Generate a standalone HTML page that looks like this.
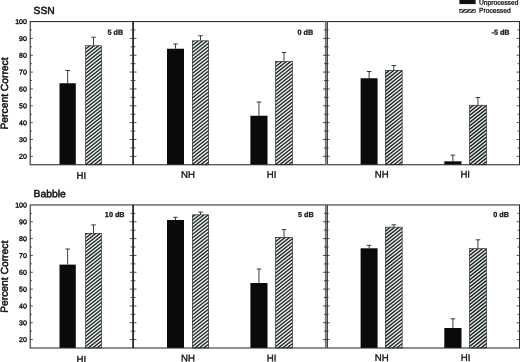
<!DOCTYPE html>
<html><head><meta charset="utf-8"><title>Percent Correct</title>
<style>
html,body{margin:0;padding:0;background:#fff;}
body{width:520px;height:362px;overflow:hidden;}
svg{display:block;}
svg text{font-family:"Liberation Sans",Arial,sans-serif;fill:#111;stroke:#111;stroke-width:0.3px;}
svg text.b{stroke-width:0.5px;}
svg text.t{stroke-width:0.4px;}
svg text.d{stroke-width:0.25px;}
</style></head><body>
<svg width="520" height="362" viewBox="0 0 520 362">
<rect width="520" height="362" fill="#fff"/>
<rect x="459.4" y="-1" width="16.2" height="5.1" fill="#111"/>
<clipPath id="c1"><rect x="459.60" y="9.20" width="15.80" height="3.20"/></clipPath><rect x="459.60" y="9.20" width="15.80" height="3.20" fill="#e0eaea"/><path clip-path="url(#c1)" d="M458.60 7.80L476.40 -6.36M458.60 11.30L476.40 -2.86M458.60 14.80L476.40 0.64M458.60 18.30L476.40 4.14M458.60 21.80L476.40 7.64M458.60 25.30L476.40 11.14M458.60 28.80L476.40 14.64" stroke="#1c1c1c" stroke-width="1.3" fill="none"/><rect x="459.60" y="9.20" width="15.80" height="3.20" fill="none" stroke="#222" stroke-width="0.5"/>
<text transform="translate(479 4.6) rotate(0.3)" font-size="6.7">Unprocessed</text>
<text transform="translate(479 12.6) rotate(0.3)" font-size="6.7">Processed</text>
<path d="M67.65 83.25V70.50M65.35 70.50H69.95" stroke="#1c1c1c" stroke-width="0.85" fill="none"/>
<rect x="59.50" y="83.25" width="16.30" height="81.50" fill="#0a0a0a"/>
<path d="M93.50 45.40V37.20M91.20 37.20H95.80" stroke="#1c1c1c" stroke-width="0.85" fill="none"/>
<clipPath id="c2"><rect x="85.65" y="45.75" width="15.70" height="119.00"/></clipPath><rect x="85.65" y="45.75" width="15.70" height="119.00" fill="#e0eaea"/><path clip-path="url(#c2)" d="M84.65 46.30L102.35 32.22M84.65 49.80L102.35 35.72M84.65 53.30L102.35 39.22M84.65 56.80L102.35 42.72M84.65 60.30L102.35 46.22M84.65 63.80L102.35 49.72M84.65 67.30L102.35 53.22M84.65 70.80L102.35 56.72M84.65 74.30L102.35 60.22M84.65 77.80L102.35 63.72M84.65 81.30L102.35 67.22M84.65 84.80L102.35 70.72M84.65 88.30L102.35 74.22M84.65 91.80L102.35 77.72M84.65 95.30L102.35 81.22M84.65 98.80L102.35 84.72M84.65 102.30L102.35 88.22M84.65 105.80L102.35 91.72M84.65 109.30L102.35 95.22M84.65 112.80L102.35 98.72M84.65 116.30L102.35 102.22M84.65 119.80L102.35 105.72M84.65 123.30L102.35 109.22M84.65 126.80L102.35 112.72M84.65 130.30L102.35 116.22M84.65 133.80L102.35 119.72M84.65 137.30L102.35 123.22M84.65 140.80L102.35 126.72M84.65 144.30L102.35 130.22M84.65 147.80L102.35 133.72M84.65 151.30L102.35 137.22M84.65 154.80L102.35 140.72M84.65 158.30L102.35 144.22M84.65 161.80L102.35 147.72M84.65 165.30L102.35 151.22M84.65 168.80L102.35 154.72M84.65 172.30L102.35 158.22M84.65 175.80L102.35 161.72M84.65 179.30L102.35 165.22" stroke="#1c1c1c" stroke-width="1.3" fill="none"/><rect x="85.65" y="45.75" width="15.70" height="119.00" fill="none" stroke="#222" stroke-width="0.65"/>
<path d="M175.50 48.75V44.00M173.20 44.00H177.80" stroke="#1c1c1c" stroke-width="0.85" fill="none"/>
<rect x="167.00" y="48.75" width="17.00" height="116.00" fill="#0a0a0a"/>
<path d="M200.50 40.50V35.75M198.20 35.75H202.80" stroke="#1c1c1c" stroke-width="0.85" fill="none"/>
<clipPath id="c3"><rect x="192.35" y="40.85" width="16.30" height="123.90"/></clipPath><rect x="192.35" y="40.85" width="16.30" height="123.90" fill="#e0eaea"/><path clip-path="url(#c3)" d="M191.35 39.30L209.65 24.74M191.35 42.80L209.65 28.24M191.35 46.30L209.65 31.74M191.35 49.80L209.65 35.24M191.35 53.30L209.65 38.74M191.35 56.80L209.65 42.24M191.35 60.30L209.65 45.74M191.35 63.80L209.65 49.24M191.35 67.30L209.65 52.74M191.35 70.80L209.65 56.24M191.35 74.30L209.65 59.74M191.35 77.80L209.65 63.24M191.35 81.30L209.65 66.74M191.35 84.80L209.65 70.24M191.35 88.30L209.65 73.74M191.35 91.80L209.65 77.24M191.35 95.30L209.65 80.74M191.35 98.80L209.65 84.24M191.35 102.30L209.65 87.74M191.35 105.80L209.65 91.24M191.35 109.30L209.65 94.74M191.35 112.80L209.65 98.24M191.35 116.30L209.65 101.74M191.35 119.80L209.65 105.24M191.35 123.30L209.65 108.74M191.35 126.80L209.65 112.24M191.35 130.30L209.65 115.74M191.35 133.80L209.65 119.24M191.35 137.30L209.65 122.74M191.35 140.80L209.65 126.24M191.35 144.30L209.65 129.74M191.35 147.80L209.65 133.24M191.35 151.30L209.65 136.74M191.35 154.80L209.65 140.24M191.35 158.30L209.65 143.74M191.35 161.80L209.65 147.24M191.35 165.30L209.65 150.74M191.35 168.80L209.65 154.24M191.35 172.30L209.65 157.74M191.35 175.80L209.65 161.24M191.35 179.30L209.65 164.74" stroke="#1c1c1c" stroke-width="1.3" fill="none"/><rect x="192.35" y="40.85" width="16.30" height="123.90" fill="none" stroke="#222" stroke-width="0.65"/>
<path d="M258.95 115.75V102.00M256.65 102.00H261.25" stroke="#1c1c1c" stroke-width="0.85" fill="none"/>
<rect x="250.40" y="115.75" width="17.10" height="49.00" fill="#0a0a0a"/>
<path d="M284.00 61.25V52.50M281.70 52.50H286.30" stroke="#1c1c1c" stroke-width="0.85" fill="none"/>
<clipPath id="c4"><rect x="275.65" y="61.60" width="16.70" height="103.15"/></clipPath><rect x="275.65" y="61.60" width="16.70" height="103.15" fill="#e0eaea"/><path clip-path="url(#c4)" d="M274.65 60.30L293.35 45.42M274.65 63.80L293.35 48.92M274.65 67.30L293.35 52.42M274.65 70.80L293.35 55.92M274.65 74.30L293.35 59.42M274.65 77.80L293.35 62.92M274.65 81.30L293.35 66.42M274.65 84.80L293.35 69.92M274.65 88.30L293.35 73.42M274.65 91.80L293.35 76.92M274.65 95.30L293.35 80.42M274.65 98.80L293.35 83.92M274.65 102.30L293.35 87.42M274.65 105.80L293.35 90.92M274.65 109.30L293.35 94.42M274.65 112.80L293.35 97.92M274.65 116.30L293.35 101.42M274.65 119.80L293.35 104.92M274.65 123.30L293.35 108.42M274.65 126.80L293.35 111.92M274.65 130.30L293.35 115.42M274.65 133.80L293.35 118.92M274.65 137.30L293.35 122.42M274.65 140.80L293.35 125.92M274.65 144.30L293.35 129.42M274.65 147.80L293.35 132.92M274.65 151.30L293.35 136.42M274.65 154.80L293.35 139.92M274.65 158.30L293.35 143.42M274.65 161.80L293.35 146.92M274.65 165.30L293.35 150.42M274.65 168.80L293.35 153.92M274.65 172.30L293.35 157.42M274.65 175.80L293.35 160.92M274.65 179.30L293.35 164.42" stroke="#1c1c1c" stroke-width="1.3" fill="none"/><rect x="275.65" y="61.60" width="16.70" height="103.15" fill="none" stroke="#222" stroke-width="0.65"/>
<path d="M369.10 78.25V71.50M366.80 71.50H371.40" stroke="#1c1c1c" stroke-width="0.85" fill="none"/>
<rect x="360.60" y="78.25" width="17.00" height="86.50" fill="#0a0a0a"/>
<path d="M393.80 70.00V65.50M391.50 65.50H396.10" stroke="#1c1c1c" stroke-width="0.85" fill="none"/>
<clipPath id="c5"><rect x="385.45" y="70.35" width="16.70" height="94.40"/></clipPath><rect x="385.45" y="70.35" width="16.70" height="94.40" fill="#e0eaea"/><path clip-path="url(#c5)" d="M384.45 70.80L403.15 55.92M384.45 74.30L403.15 59.42M384.45 77.80L403.15 62.92M384.45 81.30L403.15 66.42M384.45 84.80L403.15 69.92M384.45 88.30L403.15 73.42M384.45 91.80L403.15 76.92M384.45 95.30L403.15 80.42M384.45 98.80L403.15 83.92M384.45 102.30L403.15 87.42M384.45 105.80L403.15 90.92M384.45 109.30L403.15 94.42M384.45 112.80L403.15 97.92M384.45 116.30L403.15 101.42M384.45 119.80L403.15 104.92M384.45 123.30L403.15 108.42M384.45 126.80L403.15 111.92M384.45 130.30L403.15 115.42M384.45 133.80L403.15 118.92M384.45 137.30L403.15 122.42M384.45 140.80L403.15 125.92M384.45 144.30L403.15 129.42M384.45 147.80L403.15 132.92M384.45 151.30L403.15 136.42M384.45 154.80L403.15 139.92M384.45 158.30L403.15 143.42M384.45 161.80L403.15 146.92M384.45 165.30L403.15 150.42M384.45 168.80L403.15 153.92M384.45 172.30L403.15 157.42M384.45 175.80L403.15 160.92M384.45 179.30L403.15 164.42" stroke="#1c1c1c" stroke-width="1.3" fill="none"/><rect x="385.45" y="70.35" width="16.70" height="94.40" fill="none" stroke="#222" stroke-width="0.65"/>
<path d="M452.90 161.30V155.10M450.60 155.10H455.20" stroke="#1c1c1c" stroke-width="0.85" fill="none"/>
<rect x="444.30" y="161.30" width="17.20" height="3.45" fill="#0a0a0a"/>
<path d="M477.95 104.90V97.50M475.65 97.50H480.25" stroke="#1c1c1c" stroke-width="0.85" fill="none"/>
<clipPath id="c6"><rect x="469.55" y="105.25" width="16.80" height="59.50"/></clipPath><rect x="469.55" y="105.25" width="16.80" height="59.50" fill="#e0eaea"/><path clip-path="url(#c6)" d="M468.55 105.80L487.35 90.84M468.55 109.30L487.35 94.34M468.55 112.80L487.35 97.84M468.55 116.30L487.35 101.34M468.55 119.80L487.35 104.84M468.55 123.30L487.35 108.34M468.55 126.80L487.35 111.84M468.55 130.30L487.35 115.34M468.55 133.80L487.35 118.84M468.55 137.30L487.35 122.34M468.55 140.80L487.35 125.84M468.55 144.30L487.35 129.34M468.55 147.80L487.35 132.84M468.55 151.30L487.35 136.34M468.55 154.80L487.35 139.84M468.55 158.30L487.35 143.34M468.55 161.80L487.35 146.84M468.55 165.30L487.35 150.34M468.55 168.80L487.35 153.84M468.55 172.30L487.35 157.34M468.55 175.80L487.35 160.84M468.55 179.30L487.35 164.34" stroke="#1c1c1c" stroke-width="1.3" fill="none"/><rect x="469.55" y="105.25" width="16.80" height="59.50" fill="none" stroke="#222" stroke-width="0.65"/>
<rect x="30.2" y="21.55" width="489.3" height="143.20" fill="none" stroke="#2a2a2a" stroke-width="1.05"/>
<path d="M133.1 21.55V164.75" stroke="#1e1e1e" stroke-width="1.7"/>
<path d="M326.40 21.55V164.75" stroke="#a0a0a0" stroke-width="2.5"/>
<path d="M325.45 21.55V164.75" stroke="#646464" stroke-width="0.9"/>
<path d="M327.35 21.55V164.75" stroke="#303030" stroke-width="1.0"/>
<path d="M30.2 156.33h2.7M129.70 156.33h6.80M323.00 156.33h6.60M519.5 156.33h-3.0M30.2 147.90h1.7M130.70 147.90h4.80M324.00 147.90h4.60M519.5 147.90h-2.0M30.2 139.48h2.7M129.70 139.48h6.80M323.00 139.48h6.60M519.5 139.48h-3.0M30.2 131.06h1.7M130.70 131.06h4.80M324.00 131.06h4.60M519.5 131.06h-2.0M30.2 122.63h2.7M129.70 122.63h6.80M323.00 122.63h6.60M519.5 122.63h-3.0M30.2 114.21h1.7M130.70 114.21h4.80M324.00 114.21h4.60M519.5 114.21h-2.0M30.2 105.79h2.7M129.70 105.79h6.80M323.00 105.79h6.60M519.5 105.79h-3.0M30.2 97.36h1.7M130.70 97.36h4.80M324.00 97.36h4.60M519.5 97.36h-2.0M30.2 88.94h2.7M129.70 88.94h6.80M323.00 88.94h6.60M519.5 88.94h-3.0M30.2 80.51h1.7M130.70 80.51h4.80M324.00 80.51h4.60M519.5 80.51h-2.0M30.2 72.09h2.7M129.70 72.09h6.80M323.00 72.09h6.60M519.5 72.09h-3.0M30.2 63.67h1.7M130.70 63.67h4.80M324.00 63.67h4.60M519.5 63.67h-2.0M30.2 55.24h2.7M129.70 55.24h6.80M323.00 55.24h6.60M519.5 55.24h-3.0M30.2 46.82h1.7M130.70 46.82h4.80M324.00 46.82h4.60M519.5 46.82h-2.0M30.2 38.40h2.7M129.70 38.40h6.80M323.00 38.40h6.60M519.5 38.40h-3.0M30.2 29.97h1.7M130.70 29.97h4.80M324.00 29.97h4.60M519.5 29.97h-2.0" stroke="#2a2a2a" stroke-width="0.8" fill="none"/>
<text class="t" transform="translate(26.9 158.88) rotate(0.3)" font-size="7" text-anchor="end">20</text>
<text class="t" transform="translate(26.9 142.03) rotate(0.3)" font-size="7" text-anchor="end">30</text>
<text class="t" transform="translate(26.9 125.18) rotate(0.3)" font-size="7" text-anchor="end">40</text>
<text class="t" transform="translate(26.9 108.34) rotate(0.3)" font-size="7" text-anchor="end">50</text>
<text class="t" transform="translate(26.9 91.49) rotate(0.3)" font-size="7" text-anchor="end">60</text>
<text class="t" transform="translate(26.9 74.64) rotate(0.3)" font-size="7" text-anchor="end">70</text>
<text class="t" transform="translate(26.9 57.79) rotate(0.3)" font-size="7" text-anchor="end">80</text>
<text class="t" transform="translate(26.9 40.95) rotate(0.3)" font-size="7" text-anchor="end">90</text>
<text class="t" transform="translate(26.9 24.10) rotate(0.3)" font-size="7" text-anchor="end">100</text>
<text class="b" transform="translate(33.6 13.9) rotate(0.3)" font-size="10.3">SSN</text>
<text class="d" transform="translate(123.2 34.75) rotate(0.3)" font-size="7.25" font-weight="bold" text-anchor="end">5 dB</text>
<text class="d" transform="translate(313.2 34.75) rotate(0.3)" font-size="7.25" font-weight="bold" text-anchor="end">0 dB</text>
<text class="d" transform="translate(509.6 34.75) rotate(0.3)" font-size="7.25" font-weight="bold" text-anchor="end">-5 dB</text>
<text class="b" transform="translate(81.3 178.8) rotate(0.3)" font-size="9.6" text-anchor="middle" style="stroke-width:0.34px">HI</text>
<text class="b" transform="translate(187.9 177.8) rotate(0.3)" font-size="9.6" text-anchor="middle" style="stroke-width:0.34px">NH</text>
<text class="b" transform="translate(271.5 177.8) rotate(0.3)" font-size="9.6" text-anchor="middle" style="stroke-width:0.34px">HI</text>
<text class="b" transform="translate(381.7 177.5) rotate(0.3)" font-size="9.6" text-anchor="middle" style="stroke-width:0.34px">NH</text>
<text class="b" transform="translate(465.2 177.5) rotate(0.3)" font-size="9.6" text-anchor="middle" style="stroke-width:0.34px">HI</text>
<text class="b" transform="translate(7.9 93.45) rotate(-89.7)" font-size="10.3" text-anchor="middle">Percent Correct</text>
<path d="M67.65 264.60V249.00M65.35 249.00H69.95" stroke="#1c1c1c" stroke-width="0.85" fill="none"/>
<rect x="59.50" y="264.60" width="16.30" height="83.40" fill="#0a0a0a"/>
<path d="M93.50 233.00V224.90M91.20 224.90H95.80" stroke="#1c1c1c" stroke-width="0.85" fill="none"/>
<clipPath id="c7"><rect x="85.65" y="233.35" width="15.70" height="114.65"/></clipPath><rect x="85.65" y="233.35" width="15.70" height="114.65" fill="#e0eaea"/><path clip-path="url(#c7)" d="M84.65 231.80L102.35 217.72M84.65 235.30L102.35 221.22M84.65 238.80L102.35 224.72M84.65 242.30L102.35 228.22M84.65 245.80L102.35 231.72M84.65 249.30L102.35 235.22M84.65 252.80L102.35 238.72M84.65 256.30L102.35 242.22M84.65 259.80L102.35 245.72M84.65 263.30L102.35 249.22M84.65 266.80L102.35 252.72M84.65 270.30L102.35 256.22M84.65 273.80L102.35 259.72M84.65 277.30L102.35 263.22M84.65 280.80L102.35 266.72M84.65 284.30L102.35 270.22M84.65 287.80L102.35 273.72M84.65 291.30L102.35 277.22M84.65 294.80L102.35 280.72M84.65 298.30L102.35 284.22M84.65 301.80L102.35 287.72M84.65 305.30L102.35 291.22M84.65 308.80L102.35 294.72M84.65 312.30L102.35 298.22M84.65 315.80L102.35 301.72M84.65 319.30L102.35 305.22M84.65 322.80L102.35 308.72M84.65 326.30L102.35 312.22M84.65 329.80L102.35 315.72M84.65 333.30L102.35 319.22M84.65 336.80L102.35 322.72M84.65 340.30L102.35 326.22M84.65 343.80L102.35 329.72M84.65 347.30L102.35 333.22M84.65 350.80L102.35 336.72M84.65 354.30L102.35 340.22M84.65 357.80L102.35 343.72M84.65 361.30L102.35 347.22" stroke="#1c1c1c" stroke-width="1.3" fill="none"/><rect x="85.65" y="233.35" width="15.70" height="114.65" fill="none" stroke="#222" stroke-width="0.65"/>
<path d="M175.50 220.00V217.30M173.20 217.30H177.80" stroke="#1c1c1c" stroke-width="0.85" fill="none"/>
<rect x="167.00" y="220.00" width="17.00" height="128.00" fill="#0a0a0a"/>
<path d="M200.50 214.50V212.10M198.20 212.10H202.80" stroke="#1c1c1c" stroke-width="0.85" fill="none"/>
<clipPath id="c8"><rect x="192.35" y="214.85" width="16.30" height="133.15"/></clipPath><rect x="192.35" y="214.85" width="16.30" height="133.15" fill="#e0eaea"/><path clip-path="url(#c8)" d="M191.35 214.30L209.65 199.74M191.35 217.80L209.65 203.24M191.35 221.30L209.65 206.74M191.35 224.80L209.65 210.24M191.35 228.30L209.65 213.74M191.35 231.80L209.65 217.24M191.35 235.30L209.65 220.74M191.35 238.80L209.65 224.24M191.35 242.30L209.65 227.74M191.35 245.80L209.65 231.24M191.35 249.30L209.65 234.74M191.35 252.80L209.65 238.24M191.35 256.30L209.65 241.74M191.35 259.80L209.65 245.24M191.35 263.30L209.65 248.74M191.35 266.80L209.65 252.24M191.35 270.30L209.65 255.74M191.35 273.80L209.65 259.24M191.35 277.30L209.65 262.74M191.35 280.80L209.65 266.24M191.35 284.30L209.65 269.74M191.35 287.80L209.65 273.24M191.35 291.30L209.65 276.74M191.35 294.80L209.65 280.24M191.35 298.30L209.65 283.74M191.35 301.80L209.65 287.24M191.35 305.30L209.65 290.74M191.35 308.80L209.65 294.24M191.35 312.30L209.65 297.74M191.35 315.80L209.65 301.24M191.35 319.30L209.65 304.74M191.35 322.80L209.65 308.24M191.35 326.30L209.65 311.74M191.35 329.80L209.65 315.24M191.35 333.30L209.65 318.74M191.35 336.80L209.65 322.24M191.35 340.30L209.65 325.74M191.35 343.80L209.65 329.24M191.35 347.30L209.65 332.74M191.35 350.80L209.65 336.24M191.35 354.30L209.65 339.74M191.35 357.80L209.65 343.24M191.35 361.30L209.65 346.74M191.35 364.80L209.65 350.24" stroke="#1c1c1c" stroke-width="1.3" fill="none"/><rect x="192.35" y="214.85" width="16.30" height="133.15" fill="none" stroke="#222" stroke-width="0.65"/>
<path d="M258.95 283.00V269.00M256.65 269.00H261.25" stroke="#1c1c1c" stroke-width="0.85" fill="none"/>
<rect x="250.40" y="283.00" width="17.10" height="65.00" fill="#0a0a0a"/>
<path d="M284.00 237.00V229.60M281.70 229.60H286.30" stroke="#1c1c1c" stroke-width="0.85" fill="none"/>
<clipPath id="c9"><rect x="275.65" y="237.35" width="16.70" height="110.65"/></clipPath><rect x="275.65" y="237.35" width="16.70" height="110.65" fill="#e0eaea"/><path clip-path="url(#c9)" d="M274.65 235.30L293.35 220.42M274.65 238.80L293.35 223.92M274.65 242.30L293.35 227.42M274.65 245.80L293.35 230.92M274.65 249.30L293.35 234.42M274.65 252.80L293.35 237.92M274.65 256.30L293.35 241.42M274.65 259.80L293.35 244.92M274.65 263.30L293.35 248.42M274.65 266.80L293.35 251.92M274.65 270.30L293.35 255.42M274.65 273.80L293.35 258.92M274.65 277.30L293.35 262.42M274.65 280.80L293.35 265.92M274.65 284.30L293.35 269.42M274.65 287.80L293.35 272.92M274.65 291.30L293.35 276.42M274.65 294.80L293.35 279.92M274.65 298.30L293.35 283.42M274.65 301.80L293.35 286.92M274.65 305.30L293.35 290.42M274.65 308.80L293.35 293.92M274.65 312.30L293.35 297.42M274.65 315.80L293.35 300.92M274.65 319.30L293.35 304.42M274.65 322.80L293.35 307.92M274.65 326.30L293.35 311.42M274.65 329.80L293.35 314.92M274.65 333.30L293.35 318.42M274.65 336.80L293.35 321.92M274.65 340.30L293.35 325.42M274.65 343.80L293.35 328.92M274.65 347.30L293.35 332.42M274.65 350.80L293.35 335.92M274.65 354.30L293.35 339.42M274.65 357.80L293.35 342.92M274.65 361.30L293.35 346.42M274.65 364.80L293.35 349.92" stroke="#1c1c1c" stroke-width="1.3" fill="none"/><rect x="275.65" y="237.35" width="16.70" height="110.65" fill="none" stroke="#222" stroke-width="0.65"/>
<path d="M369.10 248.30V245.30M366.80 245.30H371.40" stroke="#1c1c1c" stroke-width="0.85" fill="none"/>
<rect x="360.60" y="248.30" width="17.00" height="99.70" fill="#0a0a0a"/>
<path d="M393.80 226.80V224.80M391.50 224.80H396.10" stroke="#1c1c1c" stroke-width="0.85" fill="none"/>
<clipPath id="c10"><rect x="385.45" y="227.15" width="16.70" height="120.85"/></clipPath><rect x="385.45" y="227.15" width="16.70" height="120.85" fill="#e0eaea"/><path clip-path="url(#c10)" d="M384.45 224.80L403.15 209.92M384.45 228.30L403.15 213.42M384.45 231.80L403.15 216.92M384.45 235.30L403.15 220.42M384.45 238.80L403.15 223.92M384.45 242.30L403.15 227.42M384.45 245.80L403.15 230.92M384.45 249.30L403.15 234.42M384.45 252.80L403.15 237.92M384.45 256.30L403.15 241.42M384.45 259.80L403.15 244.92M384.45 263.30L403.15 248.42M384.45 266.80L403.15 251.92M384.45 270.30L403.15 255.42M384.45 273.80L403.15 258.92M384.45 277.30L403.15 262.42M384.45 280.80L403.15 265.92M384.45 284.30L403.15 269.42M384.45 287.80L403.15 272.92M384.45 291.30L403.15 276.42M384.45 294.80L403.15 279.92M384.45 298.30L403.15 283.42M384.45 301.80L403.15 286.92M384.45 305.30L403.15 290.42M384.45 308.80L403.15 293.92M384.45 312.30L403.15 297.42M384.45 315.80L403.15 300.92M384.45 319.30L403.15 304.42M384.45 322.80L403.15 307.92M384.45 326.30L403.15 311.42M384.45 329.80L403.15 314.92M384.45 333.30L403.15 318.42M384.45 336.80L403.15 321.92M384.45 340.30L403.15 325.42M384.45 343.80L403.15 328.92M384.45 347.30L403.15 332.42M384.45 350.80L403.15 335.92M384.45 354.30L403.15 339.42M384.45 357.80L403.15 342.92M384.45 361.30L403.15 346.42M384.45 364.80L403.15 349.92" stroke="#1c1c1c" stroke-width="1.3" fill="none"/><rect x="385.45" y="227.15" width="16.70" height="120.85" fill="none" stroke="#222" stroke-width="0.65"/>
<path d="M452.90 328.00V318.80M450.60 318.80H455.20" stroke="#1c1c1c" stroke-width="0.85" fill="none"/>
<rect x="444.30" y="328.00" width="17.20" height="20.00" fill="#0a0a0a"/>
<path d="M477.95 248.30V239.80M475.65 239.80H480.25" stroke="#1c1c1c" stroke-width="0.85" fill="none"/>
<clipPath id="c11"><rect x="469.55" y="248.65" width="16.80" height="99.35"/></clipPath><rect x="469.55" y="248.65" width="16.80" height="99.35" fill="#e0eaea"/><path clip-path="url(#c11)" d="M468.55 249.30L487.35 234.34M468.55 252.80L487.35 237.84M468.55 256.30L487.35 241.34M468.55 259.80L487.35 244.84M468.55 263.30L487.35 248.34M468.55 266.80L487.35 251.84M468.55 270.30L487.35 255.34M468.55 273.80L487.35 258.84M468.55 277.30L487.35 262.34M468.55 280.80L487.35 265.84M468.55 284.30L487.35 269.34M468.55 287.80L487.35 272.84M468.55 291.30L487.35 276.34M468.55 294.80L487.35 279.84M468.55 298.30L487.35 283.34M468.55 301.80L487.35 286.84M468.55 305.30L487.35 290.34M468.55 308.80L487.35 293.84M468.55 312.30L487.35 297.34M468.55 315.80L487.35 300.84M468.55 319.30L487.35 304.34M468.55 322.80L487.35 307.84M468.55 326.30L487.35 311.34M468.55 329.80L487.35 314.84M468.55 333.30L487.35 318.34M468.55 336.80L487.35 321.84M468.55 340.30L487.35 325.34M468.55 343.80L487.35 328.84M468.55 347.30L487.35 332.34M468.55 350.80L487.35 335.84M468.55 354.30L487.35 339.34M468.55 357.80L487.35 342.84M468.55 361.30L487.35 346.34M468.55 364.80L487.35 349.84" stroke="#1c1c1c" stroke-width="1.3" fill="none"/><rect x="469.55" y="248.65" width="16.80" height="99.35" fill="none" stroke="#222" stroke-width="0.65"/>
<rect x="30.2" y="204.95" width="489.3" height="143.05" fill="none" stroke="#2a2a2a" stroke-width="1.05"/>
<path d="M133.1 204.95V348.0" stroke="#1e1e1e" stroke-width="1.7"/>
<path d="M326.40 204.95V348.0" stroke="#a0a0a0" stroke-width="2.5"/>
<path d="M325.45 204.95V348.0" stroke="#646464" stroke-width="0.9"/>
<path d="M327.35 204.95V348.0" stroke="#303030" stroke-width="1.0"/>
<path d="M30.2 339.59h2.7M129.70 339.59h6.80M323.00 339.59h6.60M519.5 339.59h-3.0M30.2 331.17h1.7M130.70 331.17h4.80M324.00 331.17h4.60M519.5 331.17h-2.0M30.2 322.76h2.7M129.70 322.76h6.80M323.00 322.76h6.60M519.5 322.76h-3.0M30.2 314.34h1.7M130.70 314.34h4.80M324.00 314.34h4.60M519.5 314.34h-2.0M30.2 305.93h2.7M129.70 305.93h6.80M323.00 305.93h6.60M519.5 305.93h-3.0M30.2 297.51h1.7M130.70 297.51h4.80M324.00 297.51h4.60M519.5 297.51h-2.0M30.2 289.10h2.7M129.70 289.10h6.80M323.00 289.10h6.60M519.5 289.10h-3.0M30.2 280.68h1.7M130.70 280.68h4.80M324.00 280.68h4.60M519.5 280.68h-2.0M30.2 272.27h2.7M129.70 272.27h6.80M323.00 272.27h6.60M519.5 272.27h-3.0M30.2 263.85h1.7M130.70 263.85h4.80M324.00 263.85h4.60M519.5 263.85h-2.0M30.2 255.44h2.7M129.70 255.44h6.80M323.00 255.44h6.60M519.5 255.44h-3.0M30.2 247.02h1.7M130.70 247.02h4.80M324.00 247.02h4.60M519.5 247.02h-2.0M30.2 238.61h2.7M129.70 238.61h6.80M323.00 238.61h6.60M519.5 238.61h-3.0M30.2 230.19h1.7M130.70 230.19h4.80M324.00 230.19h4.60M519.5 230.19h-2.0M30.2 221.78h2.7M129.70 221.78h6.80M323.00 221.78h6.60M519.5 221.78h-3.0M30.2 213.36h1.7M130.70 213.36h4.80M324.00 213.36h4.60M519.5 213.36h-2.0" stroke="#2a2a2a" stroke-width="0.8" fill="none"/>
<text class="t" transform="translate(26.9 342.14) rotate(0.3)" font-size="7" text-anchor="end">20</text>
<text class="t" transform="translate(26.9 325.31) rotate(0.3)" font-size="7" text-anchor="end">30</text>
<text class="t" transform="translate(26.9 308.48) rotate(0.3)" font-size="7" text-anchor="end">40</text>
<text class="t" transform="translate(26.9 291.65) rotate(0.3)" font-size="7" text-anchor="end">50</text>
<text class="t" transform="translate(26.9 274.82) rotate(0.3)" font-size="7" text-anchor="end">60</text>
<text class="t" transform="translate(26.9 257.99) rotate(0.3)" font-size="7" text-anchor="end">70</text>
<text class="t" transform="translate(26.9 241.16) rotate(0.3)" font-size="7" text-anchor="end">80</text>
<text class="t" transform="translate(26.9 224.33) rotate(0.3)" font-size="7" text-anchor="end">90</text>
<text class="t" transform="translate(26.9 207.50) rotate(0.3)" font-size="7" text-anchor="end">100</text>
<text class="b" transform="translate(33.6 197.1) rotate(0.3)" font-size="10.3">Babble</text>
<text class="d" transform="translate(124.6 217.15) rotate(0.3)" font-size="7.25" font-weight="bold" text-anchor="end">10 dB</text>
<text class="d" transform="translate(313.7 217.15) rotate(0.3)" font-size="7.25" font-weight="bold" text-anchor="end">5 dB</text>
<text class="d" transform="translate(509.0 217.15) rotate(0.3)" font-size="7.25" font-weight="bold" text-anchor="end">0 dB</text>
<text class="b" transform="translate(81.4 362.6) rotate(0.3)" font-size="9.6" text-anchor="middle" style="stroke-width:0.34px">HI</text>
<text class="b" transform="translate(188.0 361.2) rotate(0.3)" font-size="9.6" text-anchor="middle" style="stroke-width:0.34px">NH</text>
<text class="b" transform="translate(271.5 361.2) rotate(0.3)" font-size="9.6" text-anchor="middle" style="stroke-width:0.34px">HI</text>
<text class="b" transform="translate(381.7 360.9) rotate(0.3)" font-size="9.6" text-anchor="middle" style="stroke-width:0.34px">NH</text>
<text class="b" transform="translate(465.6 360.9) rotate(0.3)" font-size="9.6" text-anchor="middle" style="stroke-width:0.34px">HI</text>
<text class="b" transform="translate(7.9 276.78) rotate(-89.7)" font-size="10.3" text-anchor="middle">Percent Correct</text>
</svg>
</body></html>
